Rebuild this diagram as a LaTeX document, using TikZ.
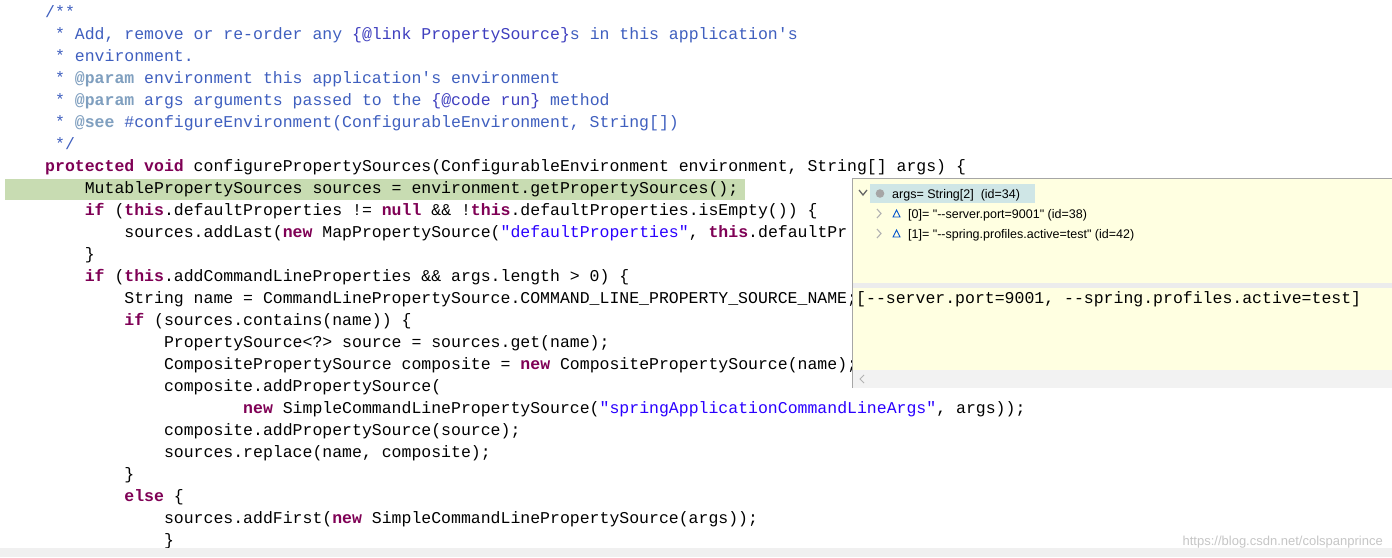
\documentclass[tikz,border=0pt]{standalone}
\usepackage{fontspec}
\newfontfamily\code{Liberation Mono}
\newfontfamily\ui{Liberation Sans}
\definecolor{cmt}{HTML}{3F5FBF}
\definecolor{tag}{HTML}{7F9FBF}
\definecolor{lnk}{HTML}{3F3FBF}
\definecolor{kw}{HTML}{7F0055}
\definecolor{str}{HTML}{2A00FF}
\definecolor{hl}{HTML}{C8DCB2}
\definecolor{tip}{HTML}{FFFFE1}
\definecolor{sel}{HTML}{CFE6E6}
\newcommand{\K}[1]{\textcolor{kw}{\bfseries #1}}
\newcommand{\Sq}[1]{\textcolor{str}{#1}}
\newcommand{\Tg}[1]{\textcolor{tag}{\bfseries #1}}
\newcommand{\Lk}[1]{\textcolor{lnk}{#1}}
\begin{document}
\begin{tikzpicture}[x=1pt,y=1pt,
  codeline/.style={anchor=base west,inner sep=0pt,font=\code\fontsize{16.5}{20}\selectfont},
  cmtline/.style={codeline,text=cmt},
  uitext/.style={anchor=base west,inner sep=0pt,font=\ui\fontsize{12.5}{15}\selectfont}]
\fill[white] (0,0) rectangle (1392,-557);
\useasboundingbox (0,0) rectangle (1392,-557);
\fill[hl] (5,-179) rectangle (745,-200);
\def\c{9.9}
\def\xo{45}
\node[cmtline] (l0) at (\xo,-17) {/**};
\node[cmtline] (l1) at (\xo+\c,-39) {* Add, remove or re-order any \Lk{\{@link PropertySource\}}s in this application's};
\node[cmtline] (l2) at (\xo+\c,-61) {* environment.};
\node[cmtline] (l3) at (\xo+\c,-83) {* \Tg{@param} environment this application's environment};
\node[cmtline] (l4) at (\xo+\c,-105) {* \Tg{@param} args arguments passed to the \Lk{\{@code run\}} method};
\node[cmtline] (l5) at (\xo+\c,-127) {* \Tg{@see} \#configureEnvironment(ConfigurableEnvironment, String[])};
\node[cmtline] (l6) at (\xo+\c,-149) {*/};
\node[codeline] (l7) at (\xo,-171) {\K{protected} \K{void} configurePropertySources(ConfigurableEnvironment environment, String[] args) \{};
\node[codeline] (l8) at (\xo+4*\c,-193) {MutablePropertySources sources = environment.getPropertySources();};
\node[codeline] (l9) at (\xo+4*\c,-215) {\K{if} (\K{this}.defaultProperties != \K{null} \&\& !\K{this}.defaultProperties.isEmpty()) \{};
\node[codeline] (l10) at (\xo+8*\c,-237) {sources.addLast(\K{new} MapPropertySource(\Sq{"defaultProperties"}, \K{this}.defaultPr};
\node[codeline] (l11) at (\xo+4*\c,-259) {\}};
\node[codeline] (l12) at (\xo+4*\c,-281) {\K{if} (\K{this}.addCommandLineProperties \&\& args.length > 0) \{};
\node[codeline] (l13) at (\xo+8*\c,-303) {String name = CommandLinePropertySource.COMMAND\_LINE\_PROPERTY\_SOURCE\_NAME;};
\node[codeline] (l14) at (\xo+8*\c,-325) {\K{if} (sources.contains(name)) \{};
\node[codeline] (l15) at (\xo+12*\c,-347) {PropertySource<?> source = sources.get(name);};
\node[codeline] (l16) at (\xo+12*\c,-369) {CompositePropertySource composite = \K{new} CompositePropertySource(name);};
\node[codeline] (l17) at (\xo+12*\c,-391) {composite.addPropertySource(};
\node[codeline] (l18) at (\xo+20*\c,-413) {\K{new} SimpleCommandLinePropertySource(\Sq{"springApplicationCommandLineArgs"}, args));};
\node[codeline] (l19) at (\xo+12*\c,-435) {composite.addPropertySource(source);};
\node[codeline] (l20) at (\xo+12*\c,-457) {sources.replace(name, composite);};
\node[codeline] (l21) at (\xo+8*\c,-479) {\}};
\node[codeline] (l22) at (\xo+8*\c,-501) {\K{else} \{};
\node[codeline] (l23) at (\xo+12*\c,-523) {sources.addFirst(\K{new} SimpleCommandLinePropertySource(args));};
\node[codeline] (l24) at (\xo+12*\c,-545) {\}};
% bottom scrollbar
\fill[gray!12] (0,-548) rectangle (1392,-557);
\node[anchor=base east,inner sep=0pt,font=\ui\fontsize{13}{15}\selectfont,text=gray!45] (wm) at (1383,-545) {https://blog.csdn.net/colspanprince};
% popup
\fill[tip] (852,-178) rectangle (1392,-388);
\fill[gray!15] (853,-283) rectangle (1392,-288);
\fill[gray!10] (853,-370) rectangle (1392,-388);
\draw[gray!70] (852.5,-388) -- (852.5,-178.5) -- (1392,-178.5);
\fill[sel] (870,-184) rectangle (1035,-203);
\draw[gray!80!black,line width=1.3pt] (859,-190) -- (863,-195) -- (867,-190);
\fill[gray!70] (880,-193.5) circle (4.3);
\node[uitext] (t0) at (892,-198) {args= String[2]\ \ (id=34)};
\draw[gray!60,line width=1.1pt] (877,-209) -- (881,-213.5) -- (877,-218);
\draw[gray!60,line width=1.1pt] (877,-229) -- (881,-233.5) -- (877,-238);
\draw[blue!60!cyan!80!black,line width=0.9pt] (893,-217) -- (896.5,-210) -- (900,-217) -- cycle;
\draw[blue!60!cyan!80!black,line width=0.9pt] (893,-237) -- (896.5,-230) -- (900,-237) -- cycle;
\node[uitext] (t1) at (908,-218) {[0]= "-{}-server.port=9001" (id=38)};
\node[uitext] (t2) at (908,-238) {[1]= "-{}-spring.profiles.active=test" (id=42)};
\node[codeline] (val) at (856,-303) {[-{}-server.port=9001, -{}-spring.profiles.active=test]};
\draw[gray!60,line width=1pt] (864,-375) -- (860,-379) -- (864,-383);
\end{tikzpicture}
\end{document}
